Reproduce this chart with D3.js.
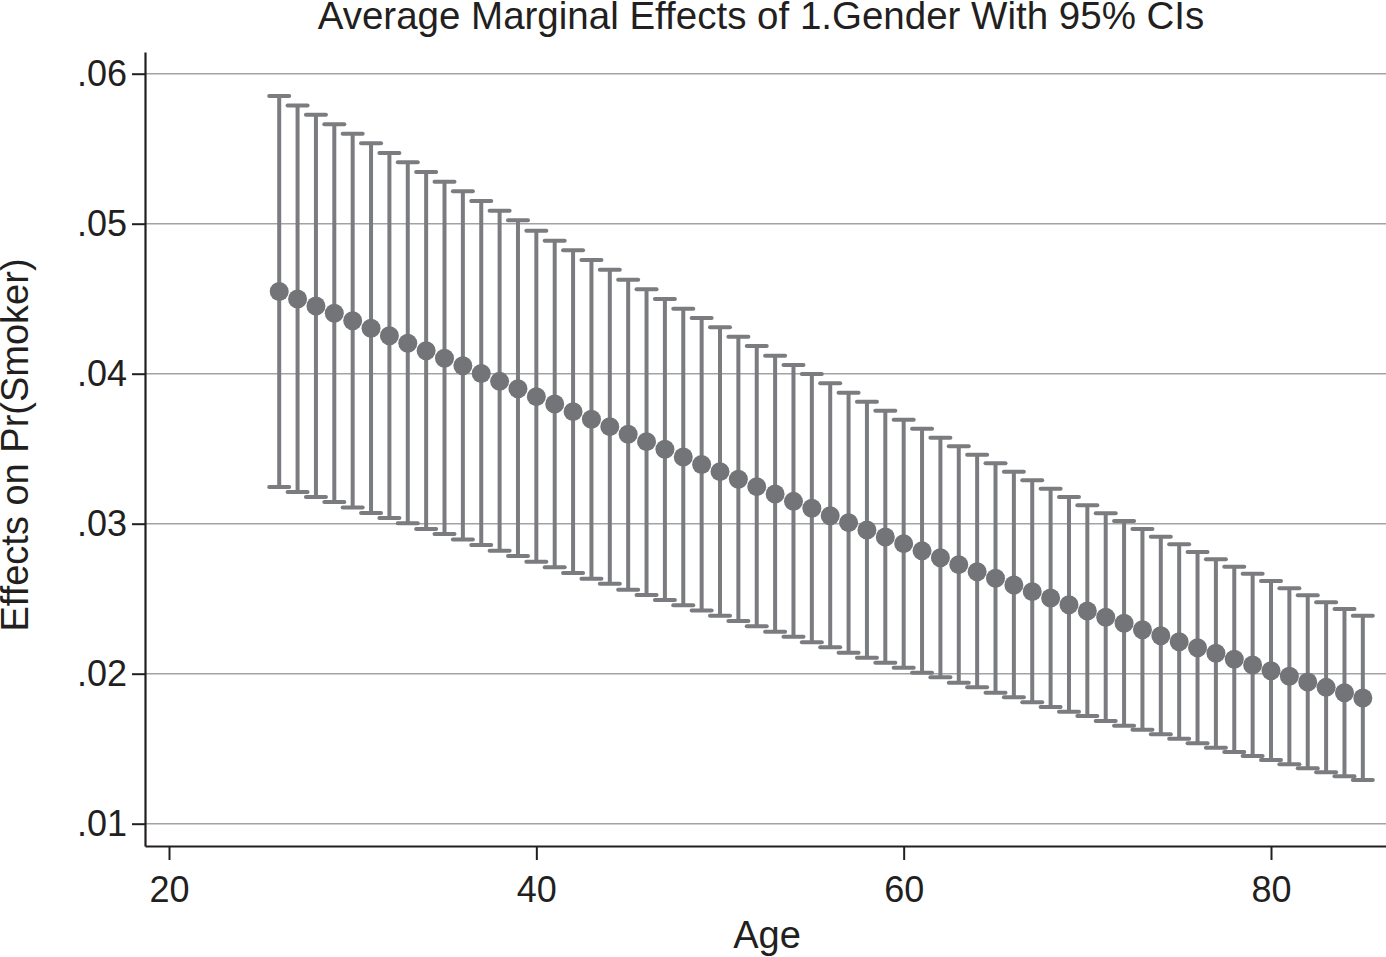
<!DOCTYPE html>
<html>
<head>
<meta charset="utf-8">
<script src="https://cdn.jsdelivr.net/npm/d3@7/dist/d3.min.js"></script>
<style>
html,body{margin:0;padding:0;background:#fff;}
svg{display:block;}
text{font-family:"Liberation Sans",Arial,Helvetica,sans-serif;fill:#231f20;}
</style>
</head>
<body>
<svg id="chart" width="1386" height="957"></svg>
<script>
const ages = d3.range(26, 86);
const margin = [0.04548,0.04498,0.04451,0.04403,0.04353,0.04303,0.04253,0.04203,0.04153,0.04103,
0.04053,0.04001,0.03949,0.03900,0.03847,0.03798,0.03747,0.03696,0.03647,0.03596,
0.03547,0.03496,0.03445,0.03395,0.03347,0.03296,0.03247,0.03198,0.03149,0.03103,
0.03053,0.03007,0.02958,0.02911,0.02867,0.02819,0.02773,0.02727,0.02680,0.02636,
0.02591,0.02547,0.02505,0.02460,0.02418,0.02376,0.02336,0.02293,0.02253,0.02213,
0.02173,0.02136,0.02096,0.02058,0.02020,0.01983,0.01945,0.01909,0.01873,0.01838];
const upper = [0.05851,0.05788,0.05727,0.05663,0.05600,0.05536,0.05471,0.05409,0.05345,0.05280,
0.05216,0.05151,0.05087,0.05023,0.04953,0.04887,0.04823,0.04758,0.04693,0.04627,
0.04563,0.04498,0.04433,0.04371,0.04309,0.04247,0.04185,0.04120,0.04058,0.03998,
0.03936,0.03873,0.03813,0.03753,0.03693,0.03633,0.03573,0.03516,0.03460,0.03403,
0.03347,0.03289,0.03233,0.03178,0.03123,0.03069,0.03018,0.02965,0.02913,0.02863,
0.02811,0.02763,0.02713,0.02667,0.02618,0.02569,0.02523,0.02476,0.02431,0.02387];
const lower = [0.03245,0.03211,0.03178,0.03145,0.03108,0.03071,0.03038,0.03003,0.02965,0.02931,
0.02895,0.02858,0.02820,0.02785,0.02747,0.02709,0.02671,0.02633,0.02600,0.02560,
0.02525,0.02491,0.02456,0.02421,0.02387,0.02351,0.02316,0.02280,0.02247,0.02209,
0.02176,0.02140,0.02107,0.02073,0.02040,0.02007,0.01976,0.01940,0.01909,0.01873,
0.01843,0.01809,0.01778,0.01747,0.01718,0.01685,0.01653,0.01627,0.01596,0.01567,
0.01536,0.01507,0.01478,0.01451,0.01425,0.01396,0.01369,0.01343,0.01316,0.01291];
const xTicks = [20, 40, 60, 80];
const yTicks = [0.01, 0.02, 0.03, 0.04, 0.05, 0.06];
const title = "Average Marginal Effects of 1.Gender With 95% CIs";
const xLabel = "Age";
const yLabel = "Effects on Pr(Smoker)";

const data = ages.map((a, i) => ({age: a, m: margin[i], lo: lower[i], hi: upper[i]}));

const L = 145, R = 1386, T = 52, B = 846;
const x = d3.scaleLinear().domain([18.693, 86.261]).range([L, R]);
const y = d3.scaleLinear().domain([0.008513, 0.061447]).range([B, T]);

const svg = d3.select("#chart");

// gridlines
svg.append("g").selectAll("line").data(yTicks).join("line")
  .attr("x1", L + 1).attr("x2", R)
  .attr("y1", d => y(d)).attr("y2", d => y(d))
  .attr("stroke", "#a3a3a3").attr("stroke-width", 1.6);

// error bars
const eb = svg.append("g").attr("stroke", "#7b7c7f").attr("stroke-width", 4).attr("fill", "none");
eb.selectAll("line.v").data(data).join("line").attr("class", "v")
  .attr("x1", d => x(d.age)).attr("x2", d => x(d.age))
  .attr("y1", d => y(d.hi)).attr("y2", d => y(d.lo));
eb.selectAll("line.t").data(data).join("line").attr("class", "t")
  .attr("x1", d => x(d.age) - 10).attr("x2", d => x(d.age) + 10)
  .attr("y1", d => y(d.hi)).attr("y2", d => y(d.hi)).attr("stroke-linecap", "round");
eb.selectAll("line.b").data(data).join("line").attr("class", "b")
  .attr("x1", d => x(d.age) - 10).attr("x2", d => x(d.age) + 10)
  .attr("y1", d => y(d.lo)).attr("y2", d => y(d.lo)).attr("stroke-linecap", "round");

// markers
svg.append("g").selectAll("circle").data(data).join("circle")
  .attr("cx", d => x(d.age)).attr("cy", d => y(d.m)).attr("r", 9.5)
  .attr("fill", "#737477");

// axes
const fmtY = d => d3.format(".2f")(d).replace(/^0/, "");
const yAxis = svg.append("g").attr("transform", `translate(${L},0)`)
  .call(d3.axisLeft(y).tickValues(yTicks).tickFormat(fmtY).tickSize(13).tickSizeOuter(0).tickPadding(5));
const xAxis = svg.append("g").attr("transform", `translate(0,${B})`)
  .call(d3.axisBottom(x).tickValues(xTicks).tickFormat(d3.format("d")).tickSize(14).tickSizeOuter(0).tickPadding(16));
[yAxis, xAxis].forEach(g => {
  g.selectAll("path.domain").attr("stroke", "#231f20").attr("stroke-width", 2.2);
  g.selectAll(".tick line").attr("stroke", "#231f20").attr("stroke-width", 2);
  g.selectAll(".tick text").attr("fill", "#231f20")
    .style("font-family", '"Liberation Sans",Arial,Helvetica,sans-serif').style("font-size", "36px");
});

// title and labels
svg.append("text").attr("x", 761).attr("y", 29).attr("text-anchor", "middle")
  .style("font-size", "38.5px").text(title);
svg.append("text").attr("x", 767).attr("y", 948).attr("text-anchor", "middle")
  .style("font-size", "38px").text(xLabel);
svg.append("text").attr("transform", "translate(28,445) rotate(-90)").attr("text-anchor", "middle")
  .style("font-size", "38px").text(yLabel);
</script>
</body>
</html>
